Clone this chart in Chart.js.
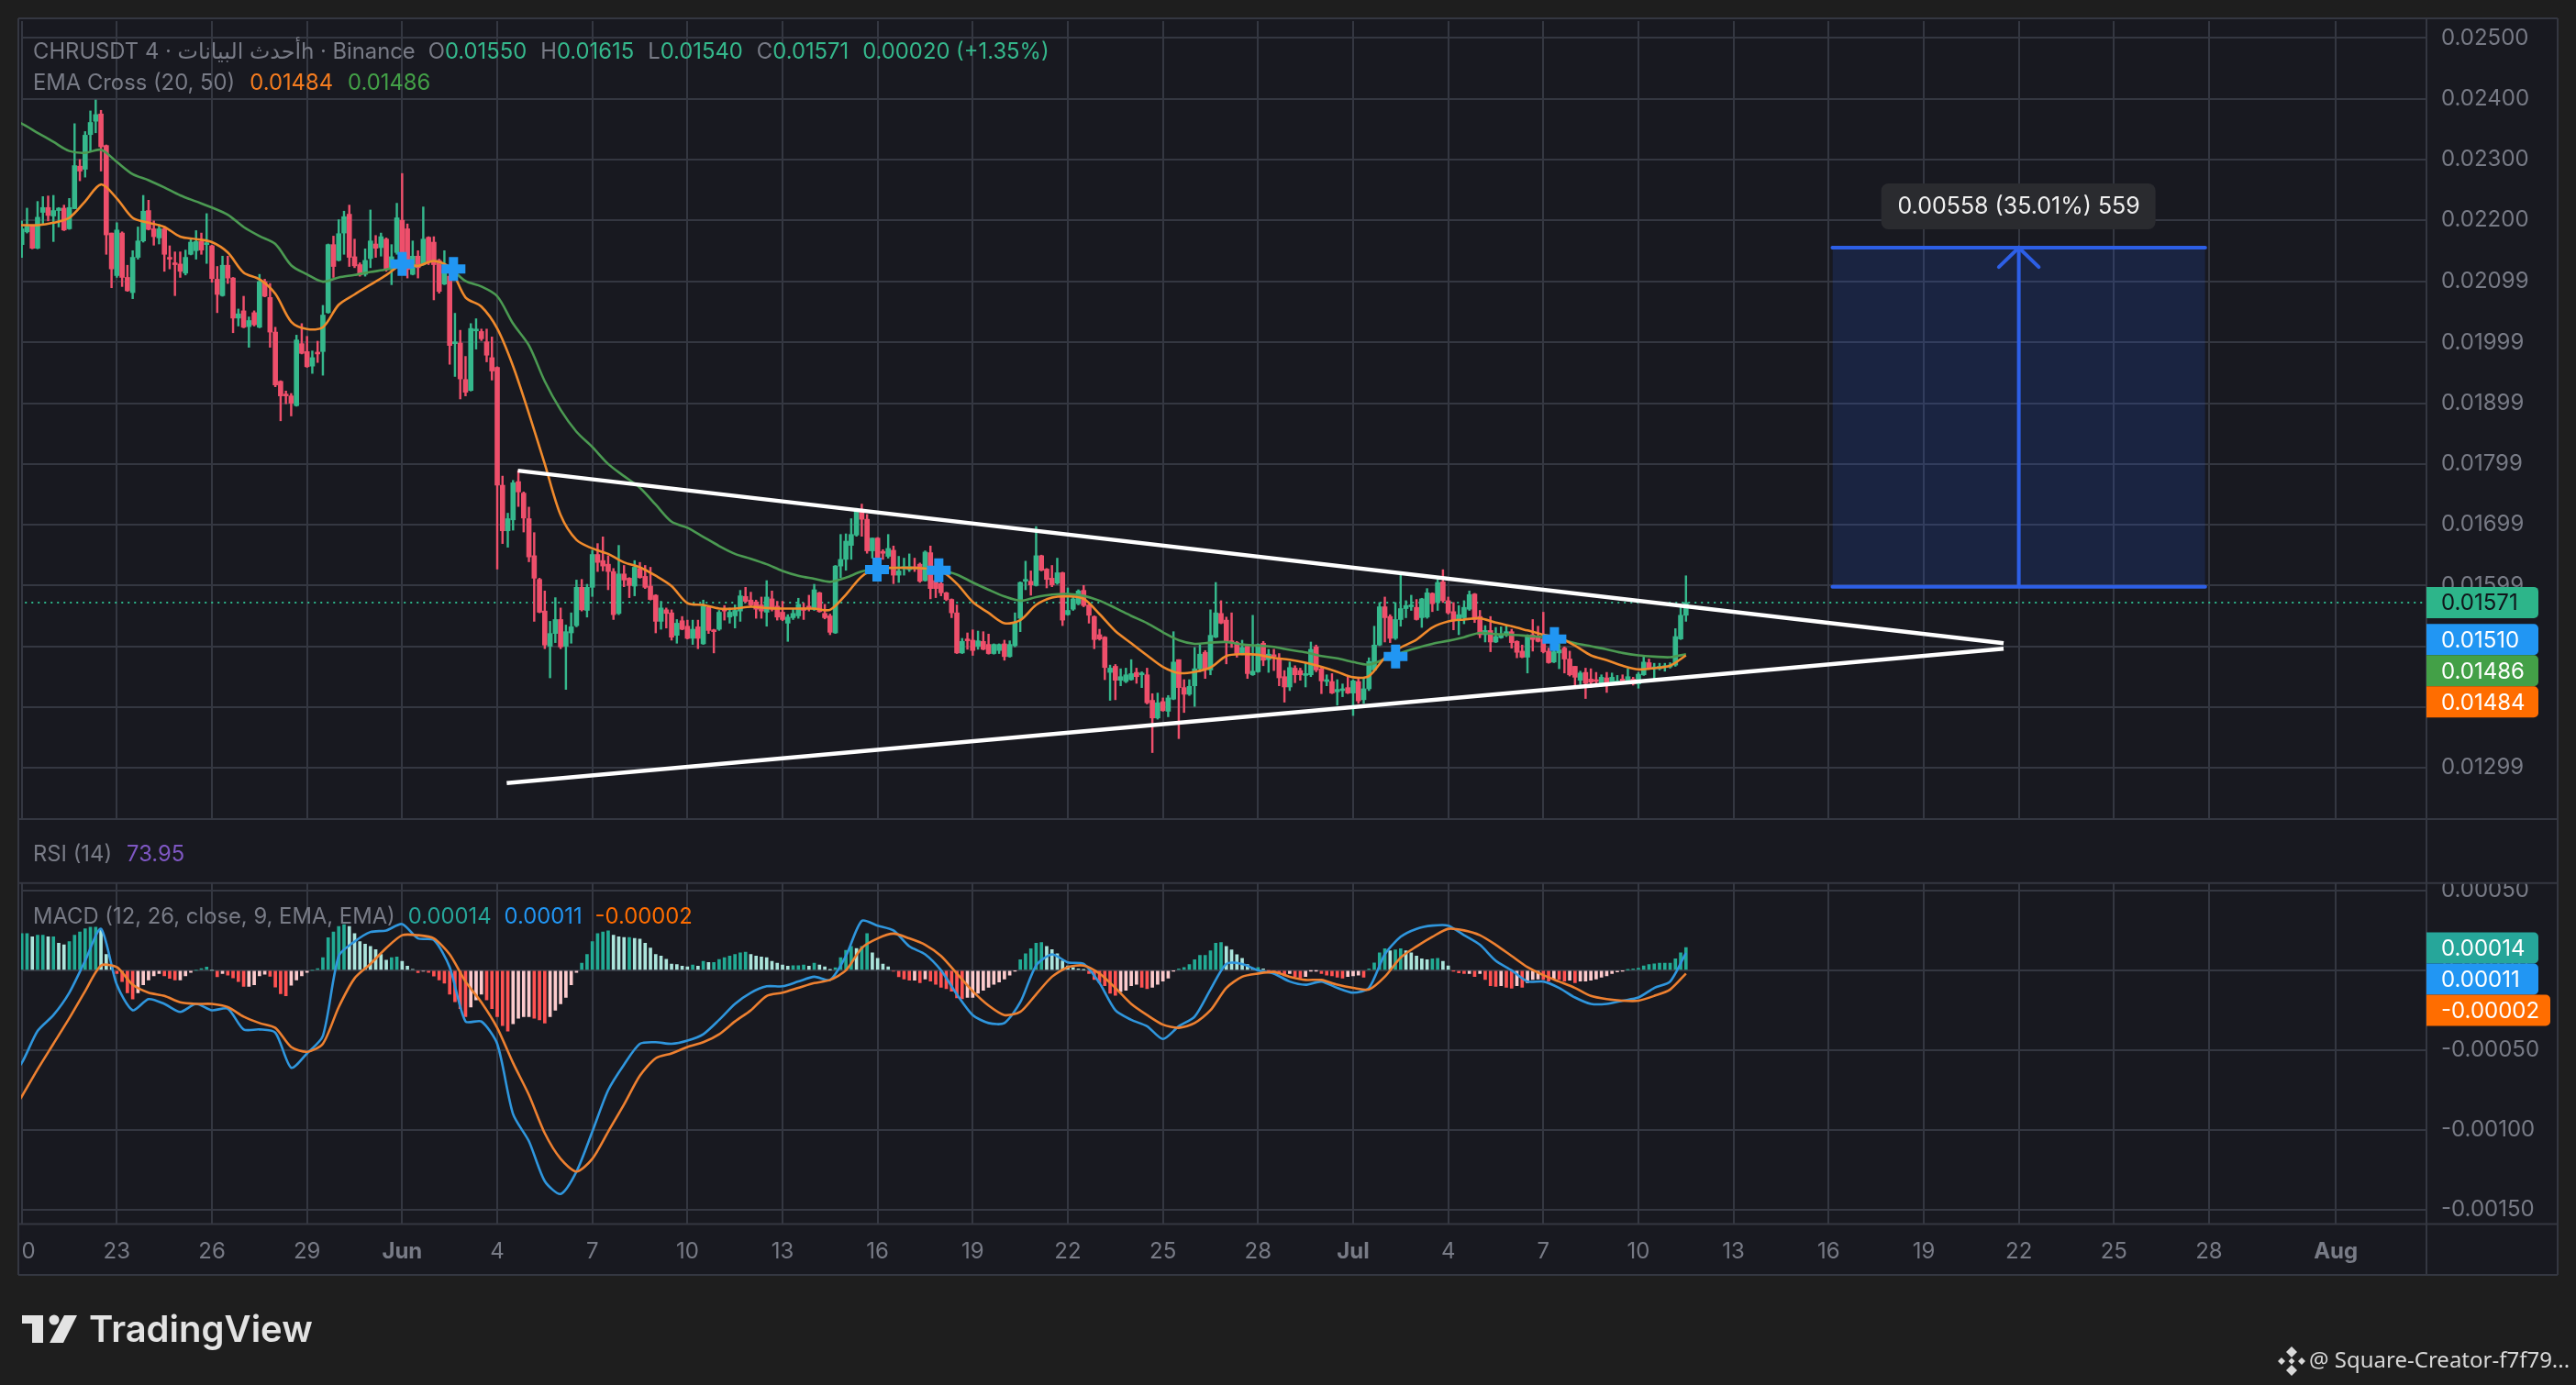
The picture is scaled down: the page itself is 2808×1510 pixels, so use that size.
<!DOCTYPE html>
<html>
<head>
<meta charset="utf-8">
<title>CHRUSDT</title>
<script src="https://cdn.jsdelivr.net/npm/chart.js@4"></script>
<style>
  html, body { margin: 0; padding: 0; background: #1e1e1e; }
  canvas { display: block; }
</style>
</head>
<body>
<canvas id="chart" width="2808" height="1510"></canvas>
<script>
// prices below are in units of 0.00001, one bar every 4h starting 20 May
const candleOpens = [
  2160,2181,2191,2154,2213,2221,2207,2216,2220,2186, 2219,2289,2284,2341,2363,2375,2323,2179,2109,2179,
  2106,2081,2139,2166,2216,2186,2171,2186,2139,2129, 2128,2113,2144,2150,2165,2160,2158,2103,2076,2126,
  2105,2039,2051,2025,2048,2024,2099,2073,2016,1935, 1913,1911,1895,1997,1984,1960,1981,1984,2048,2160,
  2134,2179,2210,2140,2127,2111,2137,2161,2155,2169, 2119,2147,2200,2186,2111,2141,2127,2172,2164,2134,
  2095,2108,1997,1998,1938,1920,2018,2017,2000,1974, 1958,1764,1689,1707,1770,1751,1709,1648,1609,1557,
  1499,1520,1543,1499,1521,1533,1596,1558,1596,1650, 1640,1634,1622,1553,1618,1611,1598,1627,1614,1598,
  1583,1540,1559,1554,1517,1541,1532,1512,1531,1503, 1563,1525,1527,1560,1547,1549,1557,1581,1575,1572,
  1567,1555,1577,1565,1555,1537,1546,1549,1562,1565, 1560,1587,1553,1549,1521,1631,1642,1665,1682,1724,
  1708,1656,1677,1654,1647,1657,1616,1627,1625,1630, 1634,1607,1653,1607,1602,1587,1576,1554,1488,1511,
  1509,1499,1507,1502,1487,1492,1503,1482,1500,1545, 1606,1606,1599,1648,1626,1611,1603,1620,1551,1560,
  1569,1591,1567,1548,1518,1514,1456,1466,1443,1441, 1444,1456,1452,1452,1410,1381,1408,1392,1412,1477,
  1431,1420,1434,1462,1489,1460,1514,1553,1542,1507, 1505,1486,1499,1452,1457,1504,1477,1484,1478,1449,
  1432,1463,1459,1451,1452,1498,1462,1441,1441,1424, 1426,1431,1422,1441,1411,1429,1460,1501,1564,1548,
  1512,1543,1561,1564,1563,1546,1547,1586,1571,1605, 1574,1556,1543,1546,1560,1585,1548,1518,1525,1506,
  1513,1517,1523,1507,1491,1481,1518,1516,1511,1491, 1473,1488,1496,1478,1466,1443,1456,1445,1443,1435,
  1447,1436,1438,1445,1438,1445,1437,1452,1472,1462, 1462,1464,1465,1468,1511,1550
];
const candleHighs = [
  2199,2220,2192,2231,2239,2240,2241,2221,2225,2236, 2359,2300,2346,2380,2398,2381,2324,2179,2196,2181,
  2126,2150,2189,2241,2233,2199,2193,2190,2158,2148, 2148,2151,2169,2183,2179,2211,2159,2124,2141,2141,
  2106,2054,2075,2041,2051,2111,2103,2096,2024,1936, 1919,1915,2011,2030,2009,1985,2001,2060,2161,2174,
  2201,2215,2225,2169,2130,2153,2217,2175,2179,2171, 2160,2228,2277,2194,2166,2150,2222,2173,2173,2136,
  2150,2122,2047,2019,1976,2030,2038,2021,2021,2008, 1959,1779,1718,1772,1788,1753,1728,1686,1611,1590,
  1540,1579,1562,1534,1554,1608,1609,1601,1657,1668, 1679,1648,1627,1665,1632,1612,1640,1637,1632,1629,
  1584,1573,1562,1559,1543,1548,1542,1542,1542,1575, 1565,1527,1558,1566,1562,1567,1591,1596,1588,1575,
  1580,1607,1590,1573,1573,1551,1561,1578,1570,1583, 1601,1588,1568,1552,1632,1683,1684,1709,1726,1733,
  1716,1677,1678,1658,1683,1664,1647,1644,1651,1644, 1636,1656,1664,1642,1607,1588,1577,1567,1512,1521,
  1526,1524,1523,1519,1503,1503,1509,1508,1554,1605, 1639,1623,1696,1649,1627,1632,1644,1621,1595,1580,
  1592,1599,1568,1549,1527,1515,1468,1469,1462,1463, 1477,1463,1457,1463,1421,1422,1414,1418,1523,1477,
  1444,1444,1497,1501,1492,1559,1604,1574,1547,1554, 1507,1509,1501,1550,1503,1507,1494,1494,1487,1459,
  1473,1467,1463,1472,1506,1501,1464,1452,1454,1444, 1437,1449,1444,1446,1446,1480,1532,1571,1580,1551,
  1571,1618,1574,1583,1576,1578,1594,1587,1609,1625, 1580,1571,1566,1574,1590,1586,1558,1533,1548,1530,
  1531,1533,1527,1508,1501,1518,1543,1532,1555,1496, 1496,1503,1498,1491,1466,1458,1463,1462,1456,1452,
  1456,1455,1451,1452,1462,1448,1456,1482,1478,1471, 1471,1471,1472,1528,1564,1615
];
const candleLows = [
  2139,2179,2153,2153,2194,2199,2165,2189,2183,2185, 2219,2265,2271,2314,2344,2281,2144,2089,2106,2091,
  2083,2071,2136,2164,2184,2159,2161,2116,2120,2076, 2106,2110,2143,2136,2144,2129,2098,2048,2075,2096,
  2015,2026,2023,1991,2026,2023,2074,1991,1926,1870, 1898,1878,1894,1980,1958,1948,1966,1945,2047,2106,
  2133,2144,2124,2122,2108,2108,2122,2139,2141,2116, 2094,2144,2111,2105,2110,2105,2126,2127,2069,2080,
  2094,1963,1943,1906,1911,1919,1988,2002,1967,1937, 1626,1668,1662,1690,1729,1687,1638,1540,1554,1495,
  1447,1505,1495,1428,1504,1531,1557,1547,1581,1622, 1623,1592,1543,1551,1597,1579,1582,1611,1594,1575,
  1521,1527,1529,1509,1504,1526,1511,1502,1495,1502, 1520,1488,1525,1542,1537,1529,1540,1571,1565,1545,
  1545,1532,1557,1542,1541,1507,1543,1545,1543,1557, 1558,1555,1544,1518,1520,1612,1624,1642,1680,1680,
  1652,1644,1643,1642,1644,1602,1604,1616,1622,1622, 1604,1606,1577,1579,1582,1574,1546,1487,1487,1494,
  1484,1494,1493,1486,1486,1487,1476,1481,1498,1523, 1592,1583,1598,1623,1595,1597,1601,1533,1550,1558,
  1567,1564,1537,1495,1509,1444,1410,1411,1434,1439, 1443,1438,1431,1404,1324,1379,1392,1383,1411,1347,
  1390,1418,1400,1457,1446,1452,1513,1536,1470,1497, 1481,1485,1446,1451,1456,1467,1456,1459,1434,1407,
  1426,1439,1443,1432,1449,1457,1421,1434,1421,1402, 1416,1421,1385,1405,1405,1426,1459,1500,1506,1505,
  1510,1532,1546,1558,1542,1530,1545,1556,1558,1571, 1552,1526,1518,1536,1558,1538,1513,1506,1490,1505,
  1512,1515,1496,1480,1480,1455,1491,1506,1488,1471, 1472,1462,1455,1450,1431,1436,1413,1431,1438,1433,
  1423,1435,1437,1438,1437,1435,1430,1451,1461,1442, 1460,1458,1463,1466,1510,1540
];
const candleCloses = [
  2186,2190,2154,2205,2221,2208,2216,2220,2184,2221, 2290,2281,2340,2361,2374,2321,2176,2120,2184,2106,
  2084,2139,2166,2215,2185,2173,2186,2144,2136,2127, 2116,2139,2164,2165,2151,2161,2104,2078,2126,2105,
  2039,2046,2024,2035,2028,2099,2075,2016,1929,1911, 1911,1899,2003,1981,1959,1974,1980,2044,2160,2124,
  2178,2206,2139,2125,2110,2134,2166,2154,2173,2119, 2140,2204,2122,2119,2141,2122,2169,2132,2127,2083,
  2119,1994,1998,1939,1917,2022,2021,2005,1978,1952, 1764,1689,1709,1768,1753,1710,1646,1611,1555,1501,
  1520,1543,1498,1523,1531,1596,1559,1596,1650,1637, 1631,1622,1551,1618,1608,1599,1629,1612,1596,1576,
  1540,1562,1553,1514,1537,1527,1512,1527,1512,1565, 1525,1523,1555,1557,1555,1558,1582,1573,1567,1560,
  1557,1580,1560,1547,1543,1547,1553,1568,1558,1562, 1592,1556,1546,1522,1631,1642,1672,1683,1722,1708,
  1656,1677,1644,1652,1660,1616,1623,1629,1630,1627, 1606,1654,1594,1594,1587,1576,1554,1488,1507,1508,
  1492,1508,1494,1487,1502,1502,1482,1502,1538,1604, 1609,1600,1648,1624,1609,1600,1620,1542,1558,1577,
  1590,1566,1550,1510,1511,1464,1463,1443,1449,1452, 1454,1449,1454,1406,1381,1406,1393,1414,1473,1431,
  1420,1433,1462,1486,1462,1517,1554,1537,1507,1505, 1487,1497,1454,1458,1502,1476,1486,1482,1447,1432,
  1464,1452,1452,1453,1494,1460,1442,1444,1422,1428, 1429,1422,1442,1409,1429,1474,1501,1564,1546,1512,
  1543,1561,1566,1566,1543,1577,1587,1569,1604,1574, 1554,1541,1551,1563,1584,1543,1518,1525,1506,1515,
  1518,1523,1505,1489,1481,1517,1510,1507,1490,1472, 1490,1493,1478,1452,1448,1455,1438,1440,1441,1448,
  1438,1448,1442,1441,1449,1437,1453,1473,1462,1465, 1466,1467,1468,1515,1550,1571
];

// moving averages and MACD lines, read every 12h from 19 May 12:00
const ema50 = [
  2368,2359,2344,2329,2314,2311,2316,2296,2276,2266,2254,2241,2231,2221,2209,2189,2174,2161,2126,2111,2099,2106,
  2110,2115,2119,2125,2125,2133,2122,2100,2091,2075,2030,1994,1935,1888,1852,1827,1799,1779,1760,1732,1704,1694,
  1679,1664,1651,1643,1634,1623,1615,1610,1605,1612,1622,1627,1628,1628,1627,1624,1617,1604,1592,1581,1574,
  1580,1584,1585,1582,1574,1562,1549,1537,1522,1509,1503,1505,1506,1502,1500,1498,1493,1489,1483,1479,1473,
  1469,1478,1488,1496,1503,1508,1514,1521,1519,1518,1516,1514,1511,1504,1499,1494,1488,1484,1482,1481,1486
];
const ema20 = [
  2190,2192,2192,2196,2204,2231,2259,2236,2204,2196,2189,2173,2169,2164,2147,2114,2103,2079,2033,2021,2024,2061,
  2078,2094,2110,2127,2125,2133,2122,2073,2058,2022,1960,1882,1799,1715,1674,1660,1651,1637,1629,1615,1598,1570,
  1567,1561,1561,1564,1562,1561,1561,1561,1559,1584,1614,1627,1628,1628,1627,1623,1602,1572,1554,1537,1542,
  1567,1579,1581,1577,1552,1524,1504,1484,1465,1455,1457,1464,1483,1486,1485,1480,1477,1472,1465,1457,1448,
  1450,1480,1497,1510,1530,1540,1543,1545,1538,1532,1525,1518,1513,1500,1484,1476,1467,1461,1463,1467,1484
];
const macdLine = [
  -70,-58,-38,-28,-14,6,26,-9,-25,-18,-21,-26,-21,-25,-24,-37,-37,-39,-61,-52,-41,9,18,24,25,29,20,19,2,
  -32,-32,-46,-90,-107,-132,-140,-126,-101,-75,-59,-46,-45,-46,-44,-40,-31,-21,-14,-10,-10,-7,-4,-6,9,31,
  28,25,15,10,0,-15,-28,-33,-33,-20,3,10,5,4,-8,-25,-31,-35,-43,-35,-29,-12,4,4,0,-2,-7,-9,-7,-11,-14,-11,
  10,21,26,28,28,22,16,6,0,-7,-7,-11,-17,-21,-21,-19,-17,-11,-7,11
];
const macdSignal = [
  -95,-79,-62,-46,-30,-13,3,2,-9,-14,-16,-20,-21,-21,-23,-29,-33,-36,-48,-51,-46,-23,-5,4,14,22,22,20,10,
  -7,-20,-36,-58,-78,-102,-118,-126,-118,-101,-84,-66,-55,-52,-48,-45,-40,-32,-25,-16,-14,-11,-8,-6,0,14,
  20,23,20,16,9,-2,-13,-22,-28,-26,-15,-4,2,3,-2,-11,-21,-28,-34,-36,-33,-25,-11,-4,-2,-1,-4,-6,-6,-9,-11,-12,
  -4,8,15,21,26,25,22,16,9,2,-3,-7,-11,-16,-18,-19,-19,-16,-12,-2
];
const macdHist = [
  23,23,21,22,22,21,21,17,16,18, 22,24,26,27,27,25,10,3,-2,-7,
  -14,-18,-14,-9,-6,-3.5,-2,-3.5,-5,-6, -6,-3.5,-1.3,0,1,2,0,-4,-2,-3,
  -4.7,-7,-10,-10,-9,-3.5,-2.4,-3.8,-10.5,-14.6, -16,-9.3,-6,-3.5,-1.3,0,1,8,20.5,24,
  27.5,28.6,27.5,23,18,16.4,15,13,10,6.3, 8,8.4,5.6,2.6,0.6,-1.5,-0.6,-1.3,-3.6,-6,
  -8,-15,-19.6,-24,-29,-23,-18.5,-15,-18.5,-24, -29,-34.6,-38,-33.5,-30,-29,-29,-30,-31,-33,
  -29,-25,-21,-17,-9,-1.3,4.5,10,18,23, 24,24.7,22,21,20.6,20.6,20,19.6,17,14,
  10,9,7,4,3.6,2.6,2.2,3.3,2.6,5.6, 5,5,6.8,8,9,10,11,11.4,10,9,
  8.4,8,5.6,4.5,3.4,2.6,2.9,2.9,3.3,2.6, 4.5,3.4,2.2,0.3,1.7,8,12.5,15,13.7,15,
  23,11,7.5,4,2.2,-0.5,-4,-5.4,-6.2,-6.2, -7.7,-5.4,-6.8,-8.7,-10.6,-11.5,-13,-17.3,-17.8,-16.9,
  -16.9,-14.4,-12.5,-10.6,-8.7,-7.3,-5.4,-3,-0.3,6.6, 10.4,13.6,17,17.4,15,13,10.4,6,2.8,1.8,
  0.9,0.3,-2,-5.8,-7.7,-9.6,-14.4,-15.7,-13.4,-12.5, -9.6,-8.7,-10.6,-11.5,-10.6,-8.7,-6.8,-4.9,-0.3,0.9,
  1.8,3.7,6.6,9.4,9.4,12.3,17,17.4,15,12.9, 9.8,7.5,3.7,0.9,1.8,0.9,-0.1,-0.5,-1.6,-3.5,
  -2,-3.9,-4.9,-3.9,-0.1,-0.1,-2,-3,-3.5,-4.3, -4.9,-3.9,-3.5,-3,-4.3,0.9,4.7,11,13.6,12.3,
  12.9,13.6,12.3,11,9,7.2,6.6,7.2,7.5,5.6, 2.8,-0.3,-1.6,-2,-2,-3.9,-2,-5.8,-9.6,-10,
  -9.6,-10.6,-11.2,-9.6,-10.6,-7.7,-5.8,-5.4,-5.8,-6.8, -5.4,-5.8,-6.8,-6.2,-7.7,-6.8,-6.8,-6.2,-5.4,-4.3,
  -3.5,-2,-1,-0.3,0.3,0.9,1.4,2.8,3.7,4.1, 4.5,4.5,4.5,7.2,11,14.2
];

// days are counted from 1 Jun
const crossDays = [0, 1.62, 14.98, 16.93, 31.34, 36.35];
const crossPrices = [2128, 2120, 1625, 1624, 1482, 1511];
const upperTrendDays = [3.65, 50.52];
const upperTrendPrices = [1788, 1504];
const lowerTrendDays = [3.3, 50.52];
const lowerTrendPrices = [1274, 1495];
const boxDays = [45.12, 56.88];
const boxTop = 2155;
const boxBottom = 1597;
const arrowDay = 51;
const arrowHeadDays = [50.37, 51, 51.63];
const arrowHeadPrices = [2123, 2155, 2123];

const priceTicks = [0.025, 0.024, 0.023, 0.022, 0.02099, 0.01999, 0.01899, 0.01799, 0.01699, 0.01599, 0.01499, 0.01399, 0.01299];
const macdTicks = [0.0005, 0, -0.0005, -0.001, -0.0015];
const timeTickDays = [-12, -9, -6, -3, 0, 3, 6, 9, 12, 15, 18, 21, 24, 27, 30, 33, 36, 39, 42, 45, 48, 51, 54, 57, 61];
const timeTickLabels = ["20", "23", "26", "29", "Jun", "4", "7", "10", "13", "16", "19", "22", "25", "28", "Jul", "4", "7", "10", "13", "16", "19", "22", "25", "28", "Aug"];
const monthTickDays = [0, 30, 61];

const lastClose = 0.01571;
const unit = 1e-5;
const firstBarDay = -12;
const firstLineDay = -12.5;

const gray = "#787b86";
const gridColor = "#343741";
const paneBg = "#181920";
const outerBg = "#1e1e1e";
const upColor = "#35b88c";
const downColor = "#ee4f6b";
const boxBlue = "#2d5fe6";
const font = "Inter, 'DejaVu Sans', sans-serif";

const barDay = i => firstBarDay + i / 6;
const lineDay = j => firstLineDay + j / 2;
const isUp = i => candleCloses[i] >= candleOpens[i];

function lineData(values) {
  return values.map((v, j) => ({ x: lineDay(j), y: v * unit }));
}

function pairs(days, values) {
  return days.map((d, i) => ({ x: d, y: values[i] * unit }));
}

function histColor(i) {
  const v = macdHist[i];
  const rising = i === 0 || v >= macdHist[i - 1];
  if (v >= 0) return rising ? "#22ab94" : "#ace5dc";
  return rising ? "#fccbcd" : "#ff5252";
}

function drawRuns(ctx, x, y, runs) {
  ctx.textAlign = "left";
  ctx.textBaseline = "middle";
  runs.forEach(([text, color, gap]) => {
    x += gap || 0;
    ctx.fillStyle = color;
    ctx.fillText(text, x, y);
    x += ctx.measureText(text).width;
  });
}

// last-value labels on the price axis, pushed down so they never overlap
function drawBadges(ctx, scale, items) {
  let prev = -Infinity;
  ctx.font = "24px " + font;
  ctx.textBaseline = "middle";
  ctx.textAlign = "left";
  items.forEach(item => {
    const y = Math.max(scale.getPixelForValue(item.value), prev + 34);
    prev = y;
    const text = item.value.toFixed(5);
    const w = text.length > 7 ? 135 : 122;
    ctx.fillStyle = item.color;
    ctx.beginPath();
    ctx.roundRect(2645, y - 17, w, 34, [0, 5, 5, 0]);
    ctx.fill();
    ctx.fillStyle = item.textColor || "#ffffff";
    ctx.fillText(text, 2661, y + 1);
  });
}

function drawLogo(ctx) {
  ctx.fillStyle = "#e3e3e3";
  ctx.beginPath();
  ctx.moveTo(24, 1434); ctx.lineTo(47, 1434); ctx.lineTo(47, 1464); ctx.lineTo(35, 1464); ctx.lineTo(35, 1443); ctx.lineTo(24, 1443);
  ctx.closePath();
  ctx.fill();
  ctx.beginPath();
  ctx.arc(59, 1439, 5.5, 0, Math.PI * 2);
  ctx.fill();
  ctx.beginPath();
  ctx.moveTo(70, 1434); ctx.lineTo(84, 1434); ctx.lineTo(69, 1464); ctx.lineTo(54, 1464);
  ctx.closePath();
  ctx.fill();
  ctx.font = "600 40px " + font;
  ctx.textBaseline = "middle";
  ctx.textAlign = "left";
  ctx.fillText("TradingView", 97, 1451);
}

function drawCreator(ctx) {
  const cx = 2498, cy = 1484;
  ctx.fillStyle = "#d8d8d8";
  [[0, -10, 6], [0, 10, 6], [-11, 0, 4], [11, 0, 4], [0, 0, 3.5]].forEach(([dx, dy, r]) => {
    ctx.beginPath();
    ctx.moveTo(cx + dx, cy + dy - r);
    ctx.lineTo(cx + dx + r, cy + dy);
    ctx.lineTo(cx + dx, cy + dy + r);
    ctx.lineTo(cx + dx - r, cy + dy);
    ctx.closePath();
    ctx.fill();
  });
  ctx.font = "24px 'Noto Sans', sans-serif";
  ctx.textBaseline = "middle";
  ctx.textAlign = "left";
  ctx.fillText("@ Square-Creator-f7f79...", 2517, 1484);
}

const panesPlugin = {
  id: "panes",
  beforeDraw(chart) {
    const { ctx } = chart;
    ctx.save();
    ctx.fillStyle = outerBg;
    ctx.fillRect(0, 0, 2808, 1510);
    ctx.fillStyle = paneBg;
    ctx.fillRect(20, 20, 2768, 1370);
    ctx.restore();
  },
  beforeDatasetsDraw(chart) {
    // the RSI pane is empty and has no vertical grid
    const { ctx, scales } = chart;
    ctx.save();
    ctx.fillStyle = paneBg;
    ctx.fillRect(20, scales.yRsi.top, 2625, scales.yRsi.bottom - scales.yRsi.top);
    ctx.restore();
  },
  afterDraw(chart) {
    const { ctx, scales, chartArea } = chart;
    const { x, yPrice, yRsi, yMacd } = scales;
    ctx.save();

    // cut what sticks out of the panes: the first date and the top MACD tick
    ctx.fillStyle = outerBg;
    ctx.fillRect(0, 1336, 20, 54);
    ctx.fillStyle = paneBg;
    ctx.fillRect(20, 1336, 3.5, 54);
    ctx.fillRect(2647, yRsi.top, 140, yRsi.bottom - yRsi.top);

    ctx.strokeStyle = gridColor;
    ctx.lineWidth = 2;
    ctx.beginPath();
    [20, yPrice.bottom, yRsi.bottom, chartArea.bottom, 1390].forEach(y => {
      ctx.moveTo(20, y);
      ctx.lineTo(2788, y);
    });
    [20, chartArea.right, 2788].forEach(px => {
      ctx.moveTo(px, 20);
      ctx.lineTo(px, 1390);
    });
    ctx.stroke();

    ctx.font = "23.8px " + font;
    drawRuns(ctx, 36, 57, [
      ["CHRUSDT 4 · أحدث البياناتh · Binance", gray],
      ["O", gray, 14], ["0.01550", upColor],
      ["H", gray, 15], ["0.01615", upColor],
      ["L", gray, 15], ["0.01540", upColor],
      ["C", gray, 15], ["0.01571", upColor],
      ["0.00020 (+1.35%)", upColor, 15]
    ]);
    drawRuns(ctx, 36, 91, [
      ["EMA Cross (20, 50)", gray],
      ["0.01484", "#f57c1f", 16],
      ["0.01486", "#43a047", 16]
    ]);
    drawRuns(ctx, 36, 932, [["RSI (14)", gray], ["73.95", "#7e57c2", 16]]);
    drawRuns(ctx, 36, 1000, [
      ["MACD (12, 26, close, 9, EMA, EMA)", gray],
      ["0.00014", "#26a69a", 14],
      ["0.00011", "#2196f3", 14],
      ["-0.00002", "#ff6d00", 14]
    ]);

    drawBadges(ctx, yPrice, [
      { value: 0.01571, color: "#2db58a", textColor: "#10151a" },
      { value: 0.0151, color: "#2196f3" },
      { value: 0.01486, color: "#43a047" },
      { value: 0.01484, color: "#ff6d00" }
    ]);
    drawBadges(ctx, yMacd, [
      { value: 0.00014, color: "#26a69a" },
      { value: 0.00011, color: "#2196f3" },
      { value: -0.00002, color: "#ff6d00" }
    ]);

    // measure label above the long box
    const labelX = x.getPixelForValue(arrowDay);
    const labelY = yPrice.getPixelForValue(boxTop * unit) - 45;
    ctx.fillStyle = "#2a2b2f";
    ctx.beginPath();
    ctx.roundRect(labelX - 150, labelY - 25, 299, 50, 8);
    ctx.fill();
    ctx.fillStyle = "#f0f0f0";
    ctx.font = "25px " + font;
    ctx.textAlign = "center";
    ctx.textBaseline = "middle";
    ctx.fillText("0.00558 (35.01%) 559", labelX, labelY + 1);

    drawLogo(ctx);
    drawCreator(ctx);
    ctx.restore();
  }
};

const line = (data, color, width, extra) => Object.assign({
  type: "line",
  data,
  borderColor: color,
  borderWidth: width,
  pointRadius: 0,
  tension: 0,
  fill: false,
  xAxisID: "x",
  yAxisID: "yPrice"
}, extra);

const candleBars = {
  type: "bar",
  grouped: false,
  borderWidth: 0,
  xAxisID: "x",
  yAxisID: "yPrice"
};

// labels hanging over the edge must not push the chart area in
const fitYAxis = axis => {
  axis.width = 143;
  axis.paddingTop = 0;
  axis.paddingBottom = 0;
};

const config = {
  type: "bar",
  data: {
    datasets: [
      line(boxDays.map(d => ({ x: d, y: boxTop * unit })), boxBlue, 4, {
        fill: { value: boxBottom * unit },
        backgroundColor: "rgba(41, 98, 255, 0.15)",
        borderCapStyle: "round",
        order: 10
      }),
      line(boxDays.map(d => ({ x: d, y: boxBottom * unit })), boxBlue, 4, { borderCapStyle: "round", order: 9 }),
      line([arrowDay, arrowDay].map((d, i) => ({ x: d, y: [boxBottom, boxTop][i] * unit })), boxBlue, 4, { order: 9 }),
      line(pairs(arrowHeadDays, arrowHeadPrices), boxBlue, 4, { borderCapStyle: "round", order: 9 }),
      line([-12.1, 63.9].map(d => ({ x: d, y: lastClose })), "#2db58a", 2, { borderDash: [2, 5], order: 9 }),
      Object.assign({}, candleBars, {
        data: candleLows.map((low, i) => ({ x: barDay(i), y: [low * unit, candleHighs[i] * unit] })),
        backgroundColor: candleLows.map((_, i) => (isUp(i) ? upColor : downColor)),
        barThickness: 1.8,
        order: 8
      }),
      Object.assign({}, candleBars, {
        data: candleOpens.map((open, i) => ({ x: barDay(i), y: [open * unit, candleCloses[i] * unit] })),
        backgroundColor: candleOpens.map((_, i) => (isUp(i) ? upColor : downColor)),
        barThickness: 5,
        minBarLength: 2,
        order: 7
      }),
      line(lineData(ema50), "#4b9a52", 2.6, { tension: 0.3, order: 6 }),
      line(lineData(ema20), "#f08a2c", 2.6, { tension: 0.3, order: 5 }),
      line(pairs(crossDays, crossPrices), "#2196f3", 0, {
        showLine: false,
        pointStyle: "cross",
        pointRadius: 13,
        pointBorderWidth: 10,
        pointBorderColor: "#2196f3",
        order: 4
      }),
      line(pairs(upperTrendDays, upperTrendPrices), "#ffffff", 4.5, { order: 3 }),
      line(pairs(lowerTrendDays, lowerTrendPrices), "#ffffff", 4.5, { order: 3 }),

      {
        type: "bar",
        grouped: false,
        data: macdHist.map((v, i) => ({ x: barDay(i), y: v * unit })),
        backgroundColor: macdHist.map((_, i) => histColor(i)),
        borderWidth: 0,
        barThickness: 3,
        xAxisID: "x",
        yAxisID: "yMacd",
        order: 8
      },
      line(lineData(macdLine), "#2f96dd", 2.6, { yAxisID: "yMacd", tension: 0.25, order: 5 }),
      line(lineData(macdSignal), "#ee8030", 2.6, { yAxisID: "yMacd", tension: 0.25, order: 4 })
    ]
  },
  options: {
    responsive: false,
    devicePixelRatio: 1,
    animation: false,
    layout: { padding: { left: 20, top: 20, right: 20, bottom: 120 } },
    plugins: { legend: { display: false }, tooltip: { enabled: false } },
    scales: {
      x: {
        type: "linear",
        position: "bottom",
        offset: false,
        min: -12.02,
        max: 63.86,
        afterBuildTicks: axis => { axis.ticks = timeTickDays.map(value => ({ value })); },
        afterFit: axis => {
          axis.height = 55.4;
          axis.paddingLeft = 0;
          axis.paddingRight = 0;
        },
        grid: { color: gridColor, lineWidth: 2, drawTicks: false, offset: false },
        border: { display: false },
        ticks: {
          autoSkip: false,
          maxRotation: 0,
          padding: 15.5,
          color: gray,
          font: ctx => ({
            family: font,
            size: 24,
            weight: ctx.tick && monthTickDays.includes(ctx.tick.value) ? "bold" : "normal"
          }),
          callback: value => timeTickLabels[timeTickDays.indexOf(value)]
        }
      },
      yPrice: {
        type: "linear",
        position: "right",
        stack: "panes",
        stackWeight: 872,
        weight: 0,
        min: 0.012146,
        max: 0.025278,
        afterBuildTicks: axis => { axis.ticks = priceTicks.map(value => ({ value })); },
        afterFit: fitYAxis,
        grid: { color: gridColor, lineWidth: 2, drawTicks: false },
        border: { display: false },
        ticks: {
          autoSkip: false,
          padding: 16,
          color: gray,
          font: { family: font, size: 24 },
          callback: value => value.toFixed(5)
        }
      },
      yRsi: {
        type: "linear",
        position: "right",
        stack: "panes",
        stackWeight: 70,
        weight: 1,
        min: 0,
        max: 100,
        afterFit: fitYAxis,
        grid: { display: false },
        border: { display: false },
        ticks: { display: false }
      },
      yMacd: {
        type: "linear",
        position: "right",
        stack: "panes",
        stackWeight: 372.6,
        weight: 2,
        min: -0.001589,
        max: 0.000546,
        afterBuildTicks: axis => { axis.ticks = macdTicks.map(value => ({ value })); },
        afterFit: fitYAxis,
        grid: { color: gridColor, lineWidth: 2, drawTicks: false },
        border: { display: false },
        ticks: {
          autoSkip: false,
          padding: 16,
          color: gray,
          font: { family: font, size: 24 },
          callback: value => value.toFixed(5)
        }
      }
    }
  },
  plugins: [panesPlugin]
};

new Chart(document.getElementById("chart"), config);
</script>
</body>
</html>
